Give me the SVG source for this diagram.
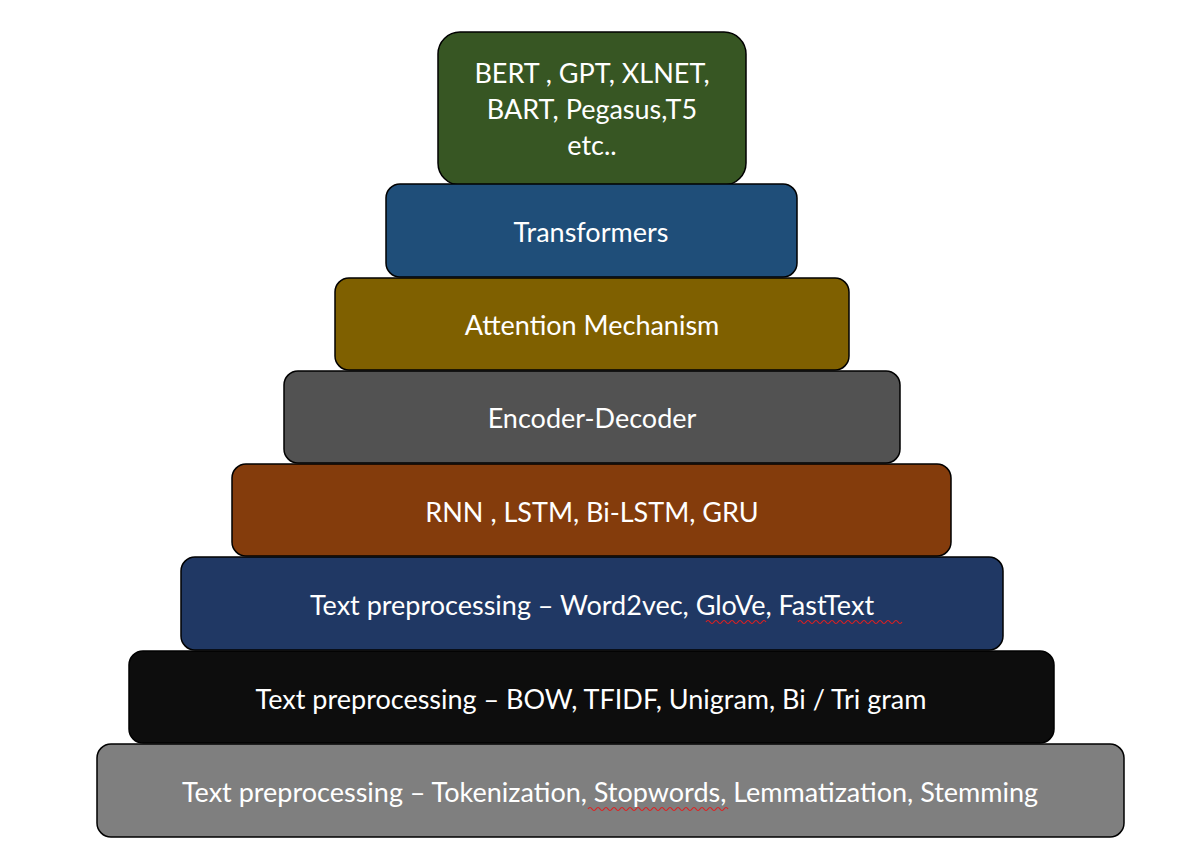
<svg xmlns="http://www.w3.org/2000/svg" width="1200" height="849" viewBox="0 0 1200 849">
<style>
.b{stroke:#000;stroke-width:1.5}
.t{font-family:Lato,"Open Sans","Liberation Sans",sans-serif;font-size:27px;fill:#fff;text-anchor:middle;dominant-baseline:central}
.w{fill:none;stroke:#e02020;stroke-width:1.2}
</style>
<rect width="1200" height="849" fill="#fff"/>
<g id="n1"><rect class="b" x="438" y="32" width="308" height="153" rx="22" fill="#375623"/>
<text class="t" x="592" y="72">BERT , GPT, XLNET,</text><text class="t" x="592" y="108">BART, Pegasus,T5</text><text class="t" x="592" y="144">etc..</text></g>
<g id="n2"><rect class="b" x="386" y="184" width="411" height="93" rx="14" fill="#1F4E79"/><text class="t" x="591" y="231">Transformers</text></g>
<g id="n3"><rect class="b" x="335" y="278" width="514" height="92" rx="14" fill="#7F6000"/><text class="t" x="592" y="324">Attention Mechanism</text></g>
<g id="n4"><rect class="b" x="284" y="371" width="616" height="92" rx="14" fill="#525252"/><text class="t" x="592" y="417">Encoder-Decoder</text></g>
<g id="n5"><rect class="b" x="232" y="464" width="719" height="92" rx="14" fill="#843C0C"/><text class="t" x="592" y="511">RNN , LSTM, Bi-LSTM, GRU</text></g>
<g id="n6"><rect class="b" x="181" y="557" width="822" height="93" rx="14" fill="#203864"/><text class="t" x="592" y="604">Text preprocessing – Word2vec, GloVe, FastText</text>
<path class="w" d="M706 622 q2 -3 4 0 t4 0 t4 0 t4 0 t4 0 t4 0 t4 0 t4 0 t4 0 t4 0 t4 0 t4 0 t4 0 t4 0 t4 0 M798 622 q2 -3 4 0 t4 0 t4 0 t4 0 t4 0 t4 0 t4 0 t4 0 t4 0 t4 0 t4 0 t4 0 t4 0 t4 0 t4 0 t4 0 t4 0 t4 0 t4 0 t4 0 t4 0 t4 0 t4 0 t4 0 t4 0 t4 0"/></g>
<g id="n7"><rect class="b" x="129" y="651" width="925" height="92" rx="14" fill="#0D0D0D"/><text class="t" x="591" y="698">Text preprocessing – BOW, TFIDF, Unigram, Bi / Tri gram</text></g>
<g id="n8"><rect class="b" x="97" y="744" width="1027" height="93" rx="14" fill="#7F7F7F"/><text class="t" x="610" y="791">Text preprocessing – Tokenization, Stopwords, Lemmatization, Stemming</text>
<path class="w" d="M588 809 q2 -3 4 0 t4 0 t4 0 t4 0 t4 0 t4 0 t4 0 t4 0 t4 0 t4 0 t4 0 t4 0 t4 0 t4 0 t4 0 t4 0 t4 0 t4 0 t4 0 t4 0 t4 0 t4 0 t4 0 t4 0 t4 0 t4 0 t4 0 t4 0 t4 0 t4 0 t4 0 t4 0 t4 0 t4 0 t4 0"/></g>
<g id="connectors"/>
</svg>
